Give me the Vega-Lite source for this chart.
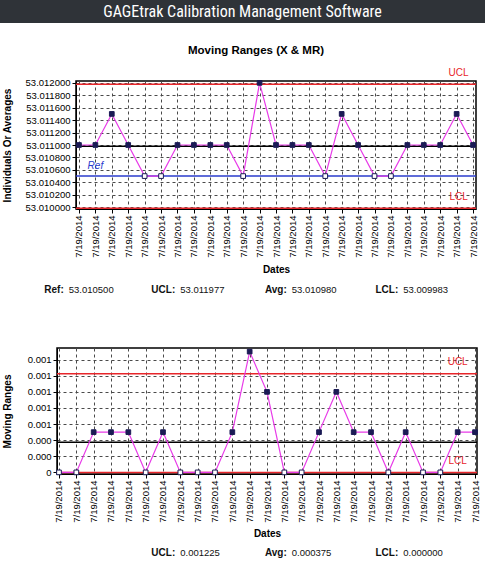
{
  "$schema": "https://vega.github.io/schema/vega-lite/v6.json",
  "padding": 0,
  "background": "white",
  "config": {
    "font": "Liberation Sans",
    "view": {"stroke": "black", "strokeWidth": 1.5},
    "axis": {
      "labelFont": "Liberation Sans",
      "labelFontSize": 9.5,
      "labelColor": "black",
      "labelPadding": 2,
      "tickColor": "black",
      "tickSize": 4,
      "domainColor": "black",
      "gridColor": "#4a4a4a",
      "gridDash": [3, 3],
      "gridWidth": 1,
      "titleFont": "Liberation Sans",
      "titleFontSize": 10,
      "titleFontWeight": "bold",
      "titleColor": "black"
    },
    "title": {"font": "Liberation Sans", "color": "black"}
  },
  "datasets": {
    "xs": [
      {"n": 1, "v": 53.011}, {"n": 2, "v": 53.011}, {"n": 3, "v": 53.0115}, {"n": 4, "v": 53.011},
      {"n": 5, "v": 53.0105}, {"n": 6, "v": 53.0105}, {"n": 7, "v": 53.011}, {"n": 8, "v": 53.011},
      {"n": 9, "v": 53.011}, {"n": 10, "v": 53.011}, {"n": 11, "v": 53.0105}, {"n": 12, "v": 53.012},
      {"n": 13, "v": 53.011}, {"n": 14, "v": 53.011}, {"n": 15, "v": 53.011}, {"n": 16, "v": 53.0105},
      {"n": 17, "v": 53.0115}, {"n": 18, "v": 53.011}, {"n": 19, "v": 53.0105}, {"n": 20, "v": 53.0105},
      {"n": 21, "v": 53.011}, {"n": 22, "v": 53.011}, {"n": 23, "v": 53.011}, {"n": 24, "v": 53.0115},
      {"n": 25, "v": 53.011}
    ],
    "mr": [
      {"n": 1, "v": 0}, {"n": 2, "v": 0}, {"n": 3, "v": 0.0005}, {"n": 4, "v": 0.0005},
      {"n": 5, "v": 0.0005}, {"n": 6, "v": 0}, {"n": 7, "v": 0.0005}, {"n": 8, "v": 0},
      {"n": 9, "v": 0}, {"n": 10, "v": 0}, {"n": 11, "v": 0.0005}, {"n": 12, "v": 0.0015},
      {"n": 13, "v": 0.001}, {"n": 14, "v": 0}, {"n": 15, "v": 0}, {"n": 16, "v": 0.0005},
      {"n": 17, "v": 0.001}, {"n": 18, "v": 0.0005}, {"n": 19, "v": 0.0005}, {"n": 20, "v": 0},
      {"n": 21, "v": 0.0005}, {"n": 22, "v": 0}, {"n": 23, "v": 0}, {"n": 24, "v": 0.0005},
      {"n": 25, "v": 0.0005}
    ],
    "xlim": [
      {"k": "UCL", "v": 53.011977},
      {"k": "LCL", "v": 53.009983},
      {"k": "Avg", "v": 53.01098},
      {"k": "Ref", "v": 53.0105}
    ],
    "mrlim": [
      {"k": "UCL", "v": 0.001225},
      {"k": "LCL", "v": 0},
      {"k": "Avg", "v": 0.000375}
    ],
    "xstats": [
      {"k": "Ref:", "t": "53.010500"},
      {"k": "UCL:", "t": "53.011977"},
      {"k": "Avg:", "t": "53.010980"},
      {"k": "LCL:", "t": "53.009983"}
    ],
    "mrstats": [
      {"k": "UCL:", "t": "0.001225"},
      {"k": "Avg:", "t": "0.000375"},
      {"k": "LCL:", "t": "0.000000"}
    ],
    "blank": [{"t": ""}]
  },
  "spacing": 8,
  "vconcat": [
    {
      "spacing": 21,
      "vconcat": [
        {
          "width": 485,
          "height": 23,
          "view": {"fill": "#2f3338", "stroke": null},
          "data": {"values": [{"t": "GAGEtrak Calibration Management Software"}]},
          "mark": {
            "type": "text",
            "color": "white",
            "fontSize": 16,
            "font": "Liberation Sans Narrow, Roboto Condensed, Roboto",
            "baseline": "middle"
          },
          "encoding": {"text": {"field": "t"}}
        },
        {
          "spacing": 0,
          "hconcat": [
            {
              "width": 1,
              "height": 1,
              "view": {"stroke": null},
              "data": {"name": "blank"},
              "mark": "text",
              "encoding": {"text": {"field": "t"}}
            },
            {
              "width": 400,
              "height": 128,
              "title": {
                "text": "Moving Ranges (X & MR)",
                "fontSize": 11.5,
                "fontWeight": "bold",
                "frame": "group",
                "dx": -20,
                "offset": 12
              },
              "encoding": {
                "x": {
                  "field": "n",
                  "type": "ordinal",
                  "scale": {"type": "point", "padding": 0.18},
                  "axis": {
                    "labelExpr": "'7/19/2014'",
                    "labelAngle": -90,
                    "labelOverlap": false,
                    "title": "Dates",
                    "titlePadding": 7,
                    "grid": true
                  }
                },
                "y": {
                  "field": "v",
                  "type": "quantitative",
                  "scale": {"domain": [53.00997, 53.01203], "nice": false, "zero": false},
                  "axis": {
                    "values": [53.01, 53.0102, 53.0104, 53.0106, 53.0108, 53.011, 53.0112, 53.0114, 53.0116, 53.0118, 53.012],
                    "format": ".6f",
                    "title": "Individuals Or Averages",
                    "titlePadding": 13,
                    "grid": true
                  }
                }
              },
              "layer": [
                {
                  "data": {"name": "xlim"},
                  "mark": {"type": "rule", "strokeWidth": 1.5},
                  "encoding": {
                    "x": null,
                    "color": {
                      "field": "k",
                      "type": "nominal",
                      "scale": {"domain": ["UCL", "LCL", "Avg", "Ref"], "range": ["#e8262b", "#e8262b", "black", "#2a3bcc"]},
                      "legend": null
                    }
                  }
                },
                {
                  "data": {"name": "xs"},
                  "mark": {"type": "line", "color": "#e83ae8", "strokeWidth": 1.2}
                },
                {
                  "data": {"name": "xs"},
                  "mark": {"type": "point", "shape": "square", "filled": true, "size": 22, "stroke": "#1b1b55", "strokeWidth": 1, "opacity": 1},
                  "encoding": {
                    "fill": {"condition": {"test": "datum.v < 53.0107", "value": "white"}, "value": "#1b1b55"}
                  }
                },
                {
                  "data": {"name": "xlim"},
                  "transform": [{"filter": "datum.k == 'UCL' || datum.k == 'LCL'"}],
                  "mark": {"type": "text", "color": "#e8262b", "fontSize": 10, "dy": -11, "dx": 2},
                  "encoding": {"x": {"datum": 24}, "text": {"field": "k"}}
                },
                {
                  "data": {"name": "xlim"},
                  "transform": [{"filter": "datum.k == 'Ref'"}],
                  "mark": {"type": "text", "color": "#2a3bcc", "fontSize": 10, "fontStyle": "italic", "dy": -10},
                  "encoding": {"x": {"datum": 2}, "text": {"field": "k"}}
                }
              ]
            }
          ]
        }
      ]
    },
    {
      "spacing": 46,
      "vconcat": [
        {
          "width": 466,
          "height": 12,
          "view": {"stroke": null},
          "data": {"name": "xstats"},
          "encoding": {
            "x": {
              "field": "k",
              "type": "nominal",
              "scale": {"type": "point", "domain": ["Ref:", "UCL:", "Avg:", "LCL:"], "padding": 0.59},
              "axis": null
            }
          },
          "layer": [
            {
              "mark": {"type": "text", "align": "right", "dx": -2, "fontSize": 10, "fontWeight": "bold", "color": "#111"},
              "encoding": {"text": {"field": "k"}}
            },
            {
              "mark": {"type": "text", "align": "left", "dx": 3, "fontSize": 9.5, "color": "#111"},
              "encoding": {"text": {"field": "t"}}
            }
          ]
        },
        {
          "spacing": 7,
          "vconcat": [
            {
              "spacing": 0,
              "hconcat": [
                {
                  "width": 1,
                  "height": 1,
                  "view": {"stroke": null},
                  "data": {"name": "blank"},
                  "mark": "text",
                  "encoding": {"text": {"field": "t"}}
                },
                {
                  "width": 420,
                  "height": 126,
                  "encoding": {
                    "x": {
                      "field": "n",
                      "type": "ordinal",
                      "scale": {"type": "point", "padding": 0.115},
                      "axis": {
                        "labelExpr": "'7/19/2014'",
                        "labelAngle": -90,
                        "labelOverlap": false,
                        "title": "Dates",
                        "titlePadding": 6,
                        "grid": true
                      }
                    },
                    "y": {
                      "field": "v",
                      "type": "quantitative",
                      "scale": {"domain": [-0.00002, 0.001545], "nice": false, "zero": false},
                      "axis": {
                        "values": [0, 0.0002, 0.0004, 0.0006, 0.0008, 0.001, 0.0012, 0.0014],
                        "labelExpr": "datum.value == 0 ? '0' : format(datum.value, '.3f')",
                        "title": "Moving Ranges",
                        "titlePadding": 15,
                        "grid": true
                      }
                    }
                  },
                  "layer": [
                    {
                      "data": {"name": "mrlim"},
                      "mark": {"type": "rule", "strokeWidth": 1.5},
                      "encoding": {
                        "x": null,
                        "color": {
                          "field": "k",
                          "type": "nominal",
                          "scale": {"domain": ["UCL", "LCL", "Avg"], "range": ["#e8262b", "#e8262b", "black"]},
                          "legend": null
                        }
                      }
                    },
                    {
                      "data": {"name": "mr"},
                      "mark": {"type": "line", "color": "#e83ae8", "strokeWidth": 1.2}
                    },
                    {
                      "data": {"name": "mr"},
                      "mark": {"type": "point", "shape": "square", "filled": true, "size": 22, "stroke": "#1b1b55", "strokeWidth": 1, "opacity": 1},
                      "encoding": {
                        "fill": {"condition": {"test": "datum.v == 0", "value": "white"}, "value": "#1b1b55"}
                      }
                    },
                    {
                      "data": {"name": "mrlim"},
                      "transform": [{"filter": "datum.k == 'UCL' || datum.k == 'LCL'"}],
                      "mark": {"type": "text", "color": "#e8262b", "fontSize": 10, "dy": -11.5},
                      "encoding": {"x": {"datum": 24}, "text": {"field": "k"}}
                    }
                  ]
                }
              ]
            },
            {
              "width": 466,
              "height": 12,
              "view": {"stroke": null},
              "data": {"name": "mrstats"},
              "encoding": {
                "x": {
                  "field": "k",
                  "type": "nominal",
                  "scale": {"type": "point", "domain": ["Ref:", "UCL:", "Avg:", "LCL:"], "padding": 0.59},
                  "axis": null
                }
              },
              "layer": [
                {
                  "mark": {"type": "text", "align": "right", "dx": -2, "fontSize": 10, "fontWeight": "bold", "color": "#111"},
                  "encoding": {"text": {"field": "k"}}
                },
                {
                  "mark": {"type": "text", "align": "left", "dx": 3, "fontSize": 9.5, "color": "#111"},
                  "encoding": {"text": {"field": "t"}}
                }
              ]
            }
          ]
        }
      ]
    }
  ]
}
